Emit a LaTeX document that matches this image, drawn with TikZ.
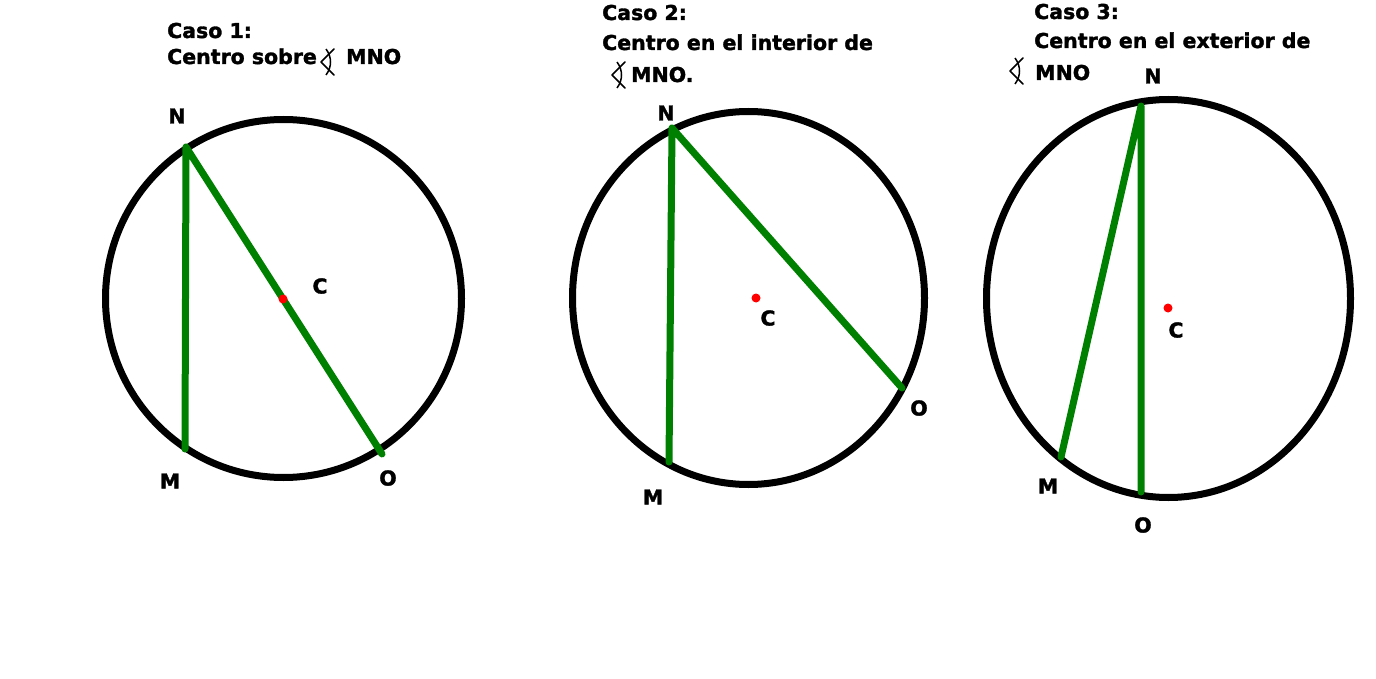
\documentclass[tikz,border=0pt]{standalone}
\usepackage{fontspec}
\setmainfont{DejaVu Sans}
\newfontfamily\heavy[FakeBold=1.6]{DejaVu Sans Bold}
\begin{document}
\begin{tikzpicture}[x=1pt,y=-1pt,
  lbl/.style={font=\fontsize{20.5}{24}\heavy, inner sep=0pt, anchor=base},
  ttl/.style={font=\fontsize{20.5}{24}\heavy, inner sep=0pt, anchor=base west},
  rim/.style={line width=7pt, black},
  chord/.style={line width=7pt, green!50!black, line cap=round, line join=round},
  ctr/.style={fill=red, draw=none},
  angsym/.pic={\draw[line width=1.5pt, line cap=round, line join=round] (13,-13) -- (0,0) -- (13,13);
               \draw[line width=1.5pt] (5,-13) .. controls (11,-5) and (11,5) .. (5,13);}]
\useasboundingbox (0,0) rectangle (1376,679);
\fill[white] (0,0) rectangle (1376,679);

% ---------- Caso 1 ----------
\coordinate (c1) at (283.5,298.5);
\coordinate (N1) at (186,147);
\coordinate (M1) at (185,449);
\coordinate (O1) at (382,454);
\draw[rim] (c1) ellipse [x radius=178pt, y radius=179pt];
\draw[chord] (M1) -- (N1) -- (O1);
\fill[ctr] (283,299) circle [radius=4.5pt];
\node[ttl] (t1a) at (167,38) {Caso 1:};
\node[ttl] (t1b) at (167,64) {Centro sobre};
\pic at (321,62) {angsym};
\node[ttl] (t1c) at (346,64) {MNO};
\node[lbl] (lN1) at (177,123.5) {N};
\node[lbl] (lM1) at (170,488.5) {M};
\node[lbl] (lO1) at (388,485.5) {O};
\node[lbl] (lC1) at (320,293.5) {C};

% ---------- Caso 2 ----------
\coordinate (c2) at (748.5,298);
\coordinate (N2) at (672,128);
\coordinate (M2) at (669,462);
\coordinate (O2) at (902,388);
\draw[rim] (c2) ellipse [x radius=176pt, y radius=186.5pt];
\draw[chord] (M2) -- (N2) -- (O2);
\fill[ctr] (756,298) circle [radius=4.5pt];
\node[ttl] (t2a) at (602,20) {Caso 2:};
\node[ttl] (t2b) at (602,50) {Centro en el interior de};
\pic at (612,75) {angsym};
\node[ttl] (t2c) at (631,82) {MNO.};
\node[lbl] (lN2) at (666,120.5) {N};
\node[lbl] (lM2) at (653,504.5) {M};
\node[lbl] (lO2) at (919,415.5) {O};
\node[lbl] (lC2) at (768,325.5) {C};

% ---------- Caso 3 ----------
\coordinate (c3) at (1168.5,298.5);
\coordinate (N3) at (1141,106);
\coordinate (M3) at (1061,457);
\coordinate (O3) at (1141,492);
\draw[rim] (c3) ellipse [x radius=182pt, y radius=199pt];
\draw[chord] (M3) -- (N3) -- (O3);
\fill[ctr] (1168,308) circle [radius=4.5pt];
\node[ttl] (t3a) at (1034,19) {Caso 3:};
\node[ttl] (t3b) at (1034,48) {Centro en el exterior de};
\pic at (1010,71) {angsym};
\node[ttl] (t3c) at (1035,80) {MNO};
\node[lbl] (lN3) at (1153,83.5) {N};
\node[lbl] (lM3) at (1048,493.5) {M};
\node[lbl] (lO3) at (1143,532.5) {O};
\node[lbl] (lC3) at (1176,337.5) {C};
\end{tikzpicture}
\end{document}
